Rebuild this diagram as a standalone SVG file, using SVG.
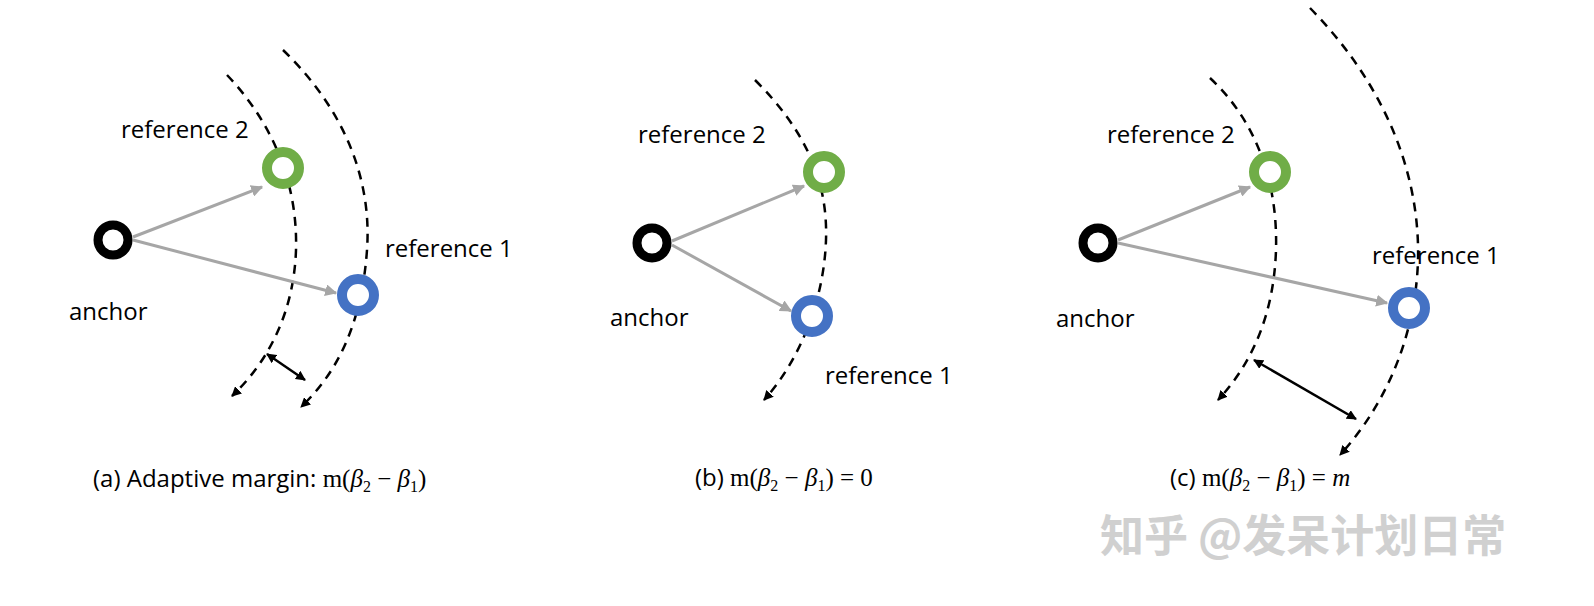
<svg xmlns="http://www.w3.org/2000/svg" width="1594" height="606" viewBox="0 0 1594 606">
<style>
.lbl{font-family:"Open Sans","Noto Sans","Liberation Sans",sans-serif;font-size:24px;fill:#000}
.mth{font-family:"Liberation Serif","DejaVu Serif",serif;font-size:25px}
.it{font-style:italic}
.sub{font-size:16px}
.arc{fill:none;stroke:#000;stroke-width:2.5;stroke-dasharray:9 7;marker-end:url(#ah)}
.vec{stroke:#A6A6A6;stroke-width:3;marker-end:url(#ga)}
.dbl{stroke:#000;stroke-width:2.5;marker-start:url(#ah2);marker-end:url(#ah2)}
.anc{fill:#fff;stroke:#000;stroke-width:9}
.r2{fill:#fff;stroke:#70AD47;stroke-width:10}
.r1{fill:#fff;stroke:#4472C4;stroke-width:10}
</style>
<defs>
<marker id="ah" viewBox="0 0 10 10" refX="9" refY="5" markerWidth="4" markerHeight="4" orient="auto" markerUnits="strokeWidth"><path d="M0,0L10,5L0,10z"/></marker>
<marker id="ah2" viewBox="0 0 10 10" refX="9" refY="5" markerWidth="4" markerHeight="4" orient="auto-start-reverse" markerUnits="strokeWidth"><path d="M0,0L10,5L0,10z"/></marker>
<marker id="ga" viewBox="0 0 10 10" refX="9" refY="5" markerWidth="4" markerHeight="4" orient="auto" markerUnits="strokeWidth"><path d="M0,0L10,5L0,10z" fill="#A6A6A6"/></marker>
</defs>
<rect width="1594" height="606" fill="#fff"/>
<g id="connectors">
<path class="arc" d="M227,75 C270,120 298,180 296,250 C294,310 270,360 232,396"/>
<path class="arc" d="M283,50 C345,110 372,180 367,250 C362,320 340,370 301,407"/>
<line class="dbl" x1="267" y1="354" x2="305" y2="380"/>
<line class="vec" x1="133" y1="237" x2="262" y2="187"/>
<line class="vec" x1="133" y1="240" x2="336" y2="293"/>
<path class="arc" d="M755,80 C805,130 828,180 826,240 C824,300 800,360 764,400"/>
<line class="vec" x1="672" y1="241" x2="804" y2="186"/>
<line class="vec" x1="672" y1="245" x2="791" y2="311"/>
<path class="arc" d="M1210,78 C1255,120 1278,180 1276,250 C1274,310 1255,360 1218,400"/>
<path class="arc" d="M1310,8 C1390,90 1420,180 1418,260 C1416,330 1390,400 1340,455"/>
<line class="dbl" x1="1254" y1="360" x2="1356" y2="419"/>
<line class="vec" x1="1118" y1="240" x2="1250" y2="187"/>
<line class="vec" x1="1118" y1="243" x2="1387" y2="303"/>
</g>
<g id="a-anchor"><circle class="anc" cx="113" cy="240" r="15"/><text class="lbl" x="69" y="320">anchor</text></g>
<g id="a-ref2"><circle class="r2" cx="283" cy="168" r="16"/><text class="lbl" x="121" y="138">reference 2</text></g>
<g id="a-ref1"><circle class="r1" cx="358" cy="295" r="16"/><text class="lbl" x="385" y="257">reference 1</text></g>
<g id="b-anchor"><circle class="anc" cx="652" cy="243" r="15"/><text class="lbl" x="610" y="326">anchor</text></g>
<g id="b-ref2"><circle class="r2" cx="824" cy="172" r="16"/><text class="lbl" x="638" y="143">reference 2</text></g>
<g id="b-ref1"><circle class="r1" cx="812" cy="316" r="16"/><text class="lbl" x="825" y="384">reference 1</text></g>
<g id="c-anchor"><circle class="anc" cx="1098" cy="243" r="15"/><text class="lbl" x="1056" y="327">anchor</text></g>
<g id="c-ref2"><circle class="r2" cx="1270" cy="172" r="16"/><text class="lbl" x="1107" y="143">reference 2</text></g>
<g id="c-ref1"><circle class="r1" cx="1409" cy="308" r="16"/><text class="lbl" x="1372" y="264">reference 1</text></g>
<text class="lbl" x="93" y="487">(a) Adaptive margin: <tspan class="mth">m(<tspan class="it">β</tspan><tspan class="sub" dy="5">2</tspan><tspan dy="-5"> − </tspan><tspan class="it">β</tspan><tspan class="sub" dy="5">1</tspan><tspan dy="-5">)</tspan></tspan></text>
<text class="lbl" x="695" y="486">(b) <tspan class="mth">m(<tspan class="it">β</tspan><tspan class="sub" dy="5">2</tspan><tspan dy="-5"> − </tspan><tspan class="it">β</tspan><tspan class="sub" dy="5">1</tspan><tspan dy="-5">) = 0</tspan></tspan></text>
<text class="lbl" x="1170" y="486">(c) <tspan class="mth">m(<tspan class="it">β</tspan><tspan class="sub" dy="5">2</tspan><tspan dy="-5"> − </tspan><tspan class="it">β</tspan><tspan class="sub" dy="5">1</tspan><tspan dy="-5">) = </tspan><tspan class="it">m</tspan></tspan></text>
<text x="1100" y="552" font-family="'Noto Sans CJK SC',sans-serif" font-size="44" font-weight="bold" fill="#D0D0D0">知乎 @发呆计划日常</text>
</svg>
